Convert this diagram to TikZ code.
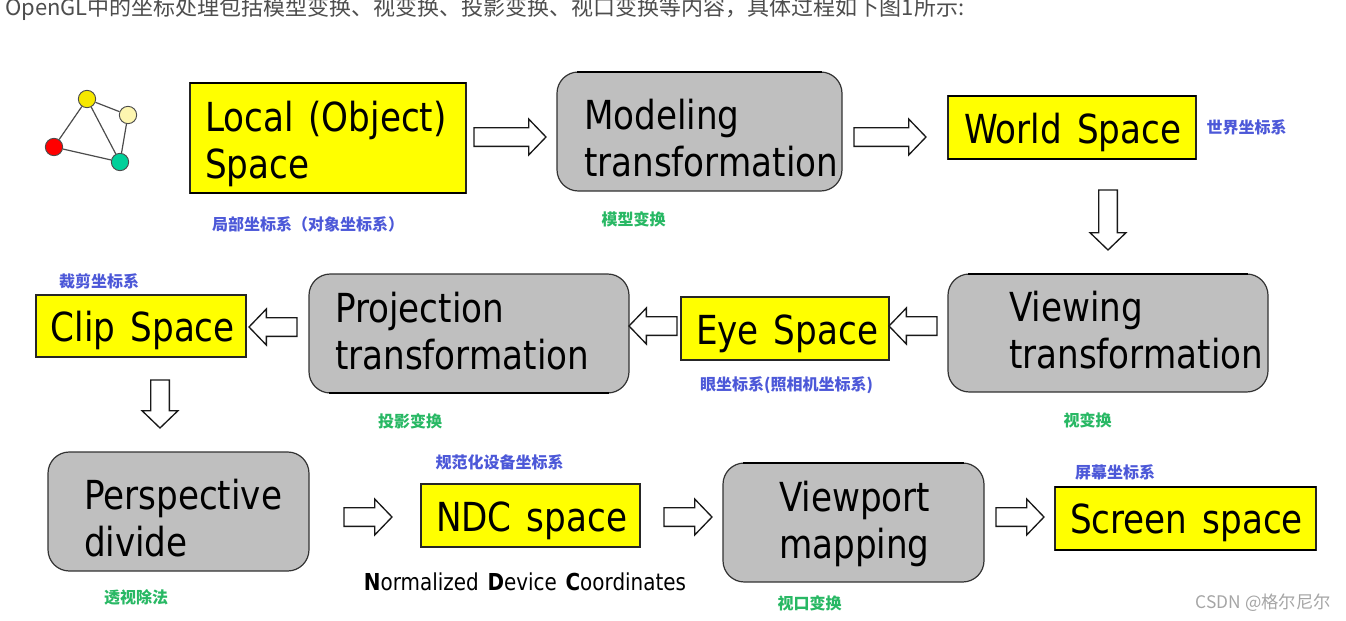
\documentclass[tikz,border=0pt]{standalone}
\usepackage{fontspec}
\usepackage{xcolor}
\setmainfont{DejaVu Sans}
\newfontfamily\boxfont[FakeStretch=0.855]{DejaVu Sans}
\newfontfamily\cjk{Noto Sans CJK SC}
\usetikzlibrary{calc,positioning,shapes}
\definecolor{boxgray}{RGB}{191,191,191}
\definecolor{boxyellow}{RGB}{255,255,0}
\definecolor{labelblue}{RGB}{76,88,216}
\definecolor{labelgreen}{RGB}{40,184,100}
\definecolor{toptext}{RGB}{77,77,77}
\definecolor{marktext}{RGB}{165,165,165}
\definecolor{graphteal}{RGB}{0,208,154}
\definecolor{graphpale}{RGB}{253,246,176}
\definecolor{graphyellow}{RGB}{246,232,0}
% left inset, drop, then the lines
\newcommand{\boxlines}[3]{\fontsize{30}{35.25}\selectfont\boxfont\spaceskip=11.25pt\raisebox{\dimexpr -#2pt*3/4\relax}[\height][\depth]{\begin{tabular}{@{\hspace{\dimexpr #1pt*3/4\relax}}l@{}}#3\end{tabular}}}
\tikzset{
  spacebox/.style 2 args={draw=black!85, line width=0.9pt, fill=boxyellow, anchor=north west, inner sep=0pt, outer sep=0pt, align=left, text width=#1*0.75pt, minimum height=#2*0.75pt},
  stepbox/.style 2 args={draw=black!80, line width=0.9pt, fill=boxgray, rounded corners=16pt, anchor=north west, inner sep=0pt, outer sep=0pt, align=left, text width=#1*0.75pt, minimum height=#2*0.75pt},
  heavyedge/.style={black, line width=1.8pt},
  bluelabel/.style={text=labelblue, font=\cjk\bfseries\fontsize{12}{14}\selectfont, inner sep=0pt},
  greenlabel/.style={text=labelgreen, font=\cjk\bfseries\fontsize{12}{14}\selectfont, inner sep=0pt},
  dot/.style={draw=black!70, line width=0.7pt, circle, minimum size=13pt, inner sep=0pt},
  blockarrow/.style={draw=black!90, line width=1pt, fill=white, to path={
    ($(\tikztotarget)!13pt!(\tikztostart)$) coordinate (hb)
    ($(\tikztostart)!7pt!90:(\tikztotarget)$) -- ($(hb)!7pt!90:(\tikztotarget)$) -- ($(hb)!13.5pt!90:(\tikztotarget)$)
    -- (\tikztotarget) -- ($(hb)!13.5pt!-90:(\tikztotarget)$) -- ($(hb)!7pt!-90:(\tikztotarget)$) -- ($(\tikztostart)!7pt!-90:(\tikztotarget)$) -- cycle}}
}
\begin{document}
\begin{tikzpicture}[x=0.75pt, y=-0.75pt]
\useasboundingbox (0,0) rectangle (1346,621);
%
\node[anchor=base west, inner sep=0pt, text=toptext, font=\cjk\fontsize{16.5}{20}\selectfont] (title) at (5,15) {OpenGL中的坐标处理包括模型变换、视变换、投影变换、视口变换等内容，具体过程如下图1所示:};
%
\node[dot, fill=graphyellow] (gA) at (87,99) {};
\node[dot, fill=graphpale] (gB) at (128,115) {};
\node[dot, fill=red] (gC) at (54,147) {};
\node[dot, fill=graphteal] (gD) at (120,162) {};
\foreach \a/\b in {gA/gB, gA/gC, gA/gD, gB/gD, gC/gD}
  \draw[black!70, line width=0.9pt] (\a) -- (\b);
%
\node[spacebox={276}{110}] (Local) at (190,83) {\boxlines{15}{8}{Local (Object)\\Space}};
\node[stepbox={285}{119}] (Model) at (557,72) {\boxlines{27}{12}{Modeling\\transformation}};
\node[spacebox={248}{63}] (World) at (948,96) {\boxlines{16}{7}{World Space}};
\node[stepbox={320}{118}] (View) at (948,274) {\boxlines{61}{3}{Viewing\\transformation}};
\node[spacebox={208}{63}] (Eye) at (681,297) {\boxlines{15}{7}{Eye Space}};
\node[stepbox={320}{119}] (Proj) at (309,274) {\boxlines{26}{3}{Projection\\transformation}};
\node[spacebox={210}{62}] (Clip) at (36,295) {\boxlines{15}{6}{Clip Space}};
\node[stepbox={261}{119}] (Persp) at (48,452) {\boxlines{36}{12}{Perspective\\divide}};
\node[spacebox={219}{63}] (NDC) at (421,484) {\boxlines{15}{7}{NDC space}};
\node[stepbox={261}{119}] (Port) at (723,463) {\boxlines{56}{3}{Viewport\\mapping}};
\node[spacebox={261}{63}] (Screen) at (1055,487) {\boxlines{15}{6}{Screen space}};
%
\foreach \n in {Local, World, Screen}
  \draw[heavyedge] (\n.north west) -- (\n.north east) (\n.south west) -- (\n.south east);
\foreach \n/\a in {Port/north, Proj/south, View/north, Model/north}
  \draw[heavyedge] ($(\n.\a\space west)+(20,0)$) -- ($(\n.\a\space east)+(-20,0)$);
%
\draw[blockarrow] ($(Local.east)+(8,-1)$) to ($(Local.east)+(80,-1)$);
\draw[blockarrow] ($(Model.east)+(12,5.5)$) to ($(World.west)+(-22,9.5)$);
\draw[blockarrow] ($(World.south)+(36,31)$) to ($(View.north)+(0,-24)$);
\draw[blockarrow] ($(View.west)+(-11,-7)$) to ($(Eye.east)+(0,-2.5)$);
\draw[blockarrow] ($(Eye.west)+(-4,-2.5)$) to ($(Proj.east)+(0,-7.5)$);
\draw[blockarrow] ($(Proj.west)+(-12,-6.5)$) to ($(Clip.east)+(3,1)$);
\draw[blockarrow] ($(Clip.south)+(19,23)$) to ($(Persp.north)+(-18.5,-24)$);
\draw[blockarrow] ($(Persp.east)+(35,5.5)$) to ($(NDC.west)+(-29,1.5)$);
\draw[blockarrow] ($(NDC.east)+(24,1.5)$) to ($(Port.west)+(-11,-5.5)$);
\draw[blockarrow] ($(Port.east)+(12,-5.5)$) to ($(Screen.west)+(-11,-1.5)$);
%
\node[bluelabel] (lLocal) at (308,224) {局部坐标系（对象坐标系）};
\node[greenlabel] (lModel) at (633.5,219) {模型变换};
\node[bluelabel] (lWorld) at (1246.5,127) {世界坐标系};
\node[greenlabel] (lView) at (1087.5,420) {视变换};
\node[bluelabel] (lEye) at (786.5,385) {眼坐标系(照相机坐标系)};
\node[greenlabel] (lProj) at (410,421) {投影变换};
\node[bluelabel] (lClip) at (99,281) {裁剪坐标系};
\node[greenlabel] (lPersp) at (136,597) {透视除法};
\node[bluelabel] (lNDC) at (499.5,462) {规范化设备坐标系};
\node[greenlabel] (lPort) at (809.5,603) {视口变换};
\node[bluelabel] (lScreen) at (1115,472) {屏幕坐标系};
%
\node[inner sep=0pt, font=\boxfont\fontsize{17.5}{20}\selectfont] (full) at (525,582) {\spaceskip=6.5pt\textbf{N}ormalized \textbf{D}evice \textbf{C}oordinates};
\node[anchor=east, inner sep=0pt, text=marktext, font=\cjk\fontsize{13}{16}\selectfont] (mark) at (1331,603) {CSDN @格尔尼尔};
\end{tikzpicture}
\end{document}
